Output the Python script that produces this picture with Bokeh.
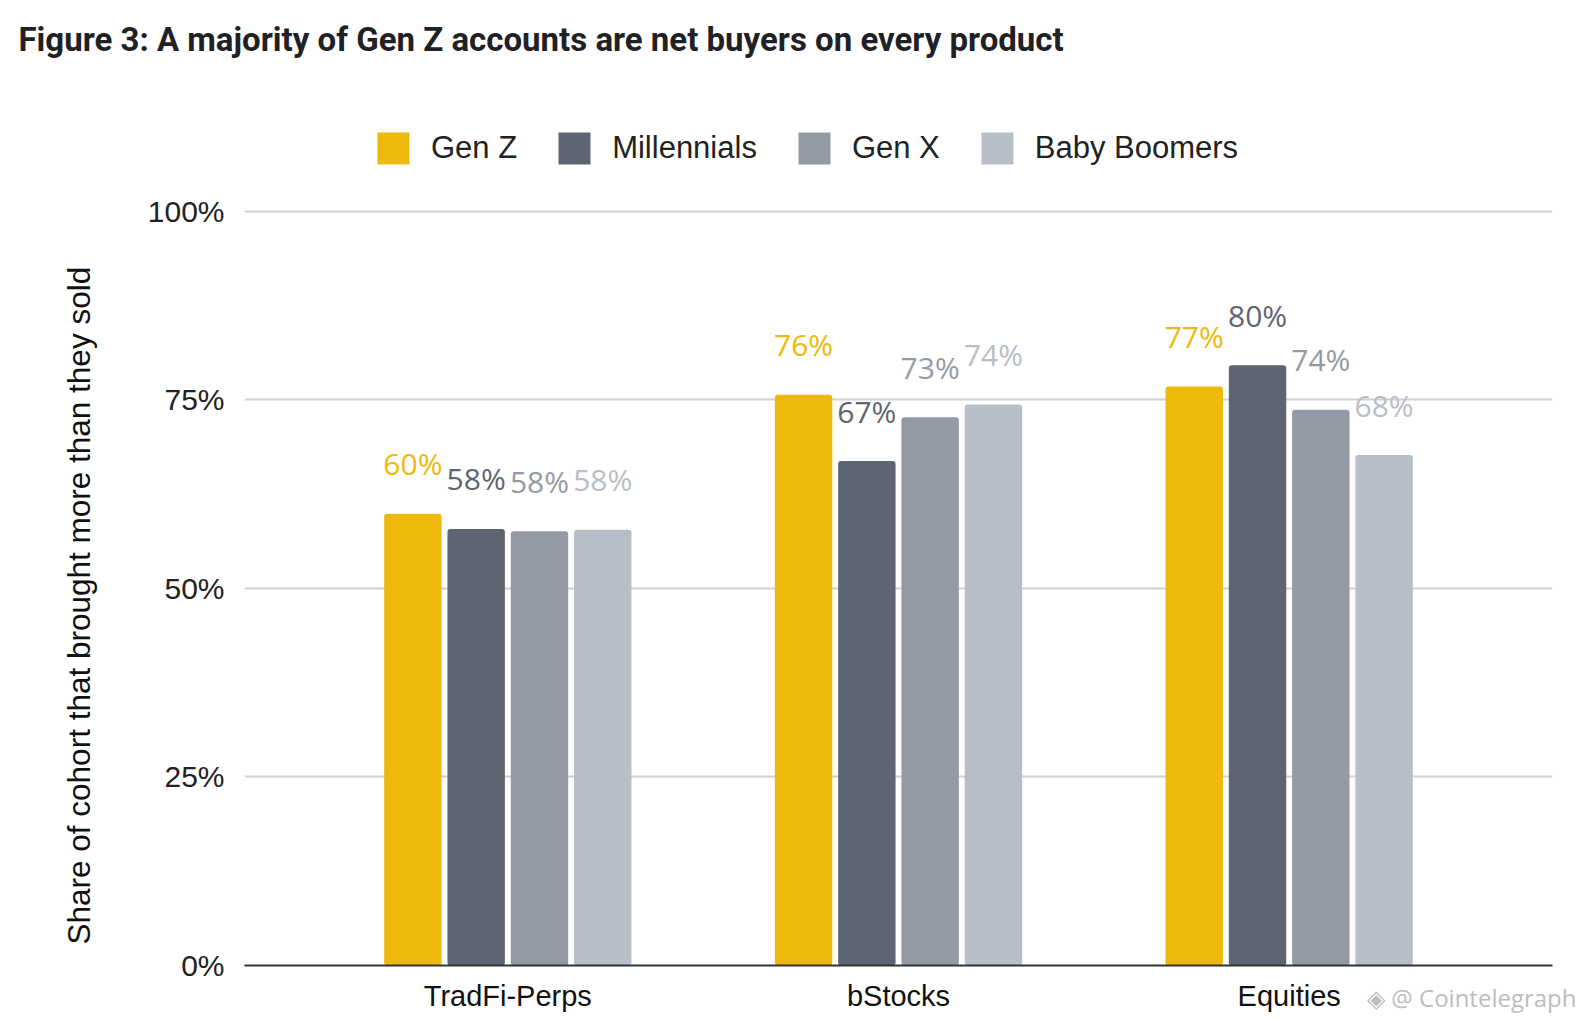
from bokeh.plotting import figure
from bokeh.models import (ColumnDataSource, FactorRange, Range1d, Legend, LegendItem,
                          FixedTicker, Title)
from bokeh.transform import dodge
from bokeh.core.properties import value
from bokeh.embed import file_html
from bokeh.resources import INLINE

# ---------------- data ----------------
categories = ["TradFi-Perps", "bStocks", "Equities"]
series = ["Gen Z", "Millennials", "Gen X", "Baby Boomers"]
gen_z = [59.9, 75.7, 76.8]
millennials = [57.9, 66.9, 79.6]
gen_x = [57.6, 72.7, 73.7]
baby_boomers = [57.8, 74.4, 67.7]
y_ticks = [0, 25, 50, 75, 100]
y_tick_labels = ["0%", "25%", "50%", "75%", "100%"]
title_text = "Figure 3: A majority of Gen Z accounts are net buyers on every product"
y_title = "Share of cohort that brought more than they sold"
watermark = "\u25C8 @ Cointelegraph"

colors = ["#EEB90C", "#5E6572", "#949AA5", "#B8BEC7"]
values = [gen_z, millennials, gen_x, baby_boomers]
offsets = [-0.243, -0.081, 0.081, 0.243]

W, H = 1599, 1030
FL, FR, FT, FB = 244, 1552, 72, 965   # frame edges (page px)
p = figure(width=W, height=H, output_backend="svg", toolbar_location=None,
           title=None,
           x_range=FactorRange(factors=categories, range_padding=0.174,
                               range_padding_units="absolute"),
           y_range=Range1d(0, 118.43),
           min_border_left=FL, min_border_right=W - FR, min_border_top=FT,
           min_border_bottom=H - FB)
p.outline_line_color = None
p.background_fill_color = "white"
p.border_fill_color = "white"

items = []
for name, vals, col, off in zip(series, values, colors, offsets):
    src = ColumnDataSource(dict(cat=categories, val=vals,
                                lab=[f"{round(v)}%" for v in vals]))
    r = p.vbar(x=dodge("cat", off, range=p.x_range), top="val", bottom=0,
               width=0.147, source=src, fill_color=col, line_color=None,
               border_radius=3)
    p.text(x=dodge("cat", off, range=p.x_range), y="val", text="lab", source=src,
           y_offset=-50, text_align="center", text_baseline="middle",
           text_color=col, text_font=value("Open Sans"), text_font_size="30px")
    items.append(LegendItem(label=name, renderers=[r]))

# legend inside the (extended) frame, above the 100% line
legend = Legend(items=items, orientation="horizontal", location=(129, 797),
                glyph_width=40, glyph_height=40, label_standoff=18, spacing=37,
                padding=0, margin=0, border_line_color=None,
                background_fill_alpha=0, label_text_font_size="31px",
                label_text_font="Liberation Sans", label_text_color="#222222",
                label_height=40)
p.add_layout(legend)

# chart title
p.add_layout(Title(text=title_text, align="left", offset=-226, standoff=28,
                   text_font="Roboto", text_font_style="bold", text_font_size="33px",
                   text_color="#1F2126"), "above")

# axes
p.xgrid.grid_line_color = None
p.ygrid.grid_line_color = "#D0D0D0"
p.ygrid.grid_line_width = 2
p.yaxis.ticker = FixedTicker(ticks=y_ticks)
p.yaxis.major_label_overrides = {t: l for t, l in zip(y_ticks, y_tick_labels)}
p.yaxis.axis_line_color = None
p.yaxis.major_tick_line_color = None
p.yaxis.minor_tick_line_color = None
p.yaxis.major_tick_out = 0
p.yaxis.major_label_standoff = 20
p.yaxis.major_label_text_font = "Liberation Sans"
p.yaxis.major_label_text_font_size = "30px"
p.yaxis.major_label_text_color = "#222222"

p.xaxis.axis_line_color = "#333333"
p.xaxis.axis_line_width = 2
p.xaxis.major_tick_line_color = None
p.xaxis.minor_tick_line_color = None
p.xaxis.major_tick_out = 0
p.xaxis.major_label_standoff = 14
p.xaxis.major_label_text_font = "Liberation Sans"
p.xaxis.major_label_text_font_size = "29px"
p.xaxis.major_label_text_color = "#111111"

# y-axis title
p.add_layout(Title(text=y_title, align="left", offset=21, standoff=96,
                   text_font="Liberation Sans", text_font_style="normal",
                   text_font_size="31.5px", text_color="#111111"), "left")

# watermark in the bottom row
p.add_layout(Title(text=watermark, align="right", offset=-24, standoff=-67,
                   vertical_align="top",
                   text_font="Open Sans", text_font_style="normal", text_font_size="24px",
                   text_color="#BDBDBD"), "below")

open("out.html", "w").write(file_html(p, INLINE))
